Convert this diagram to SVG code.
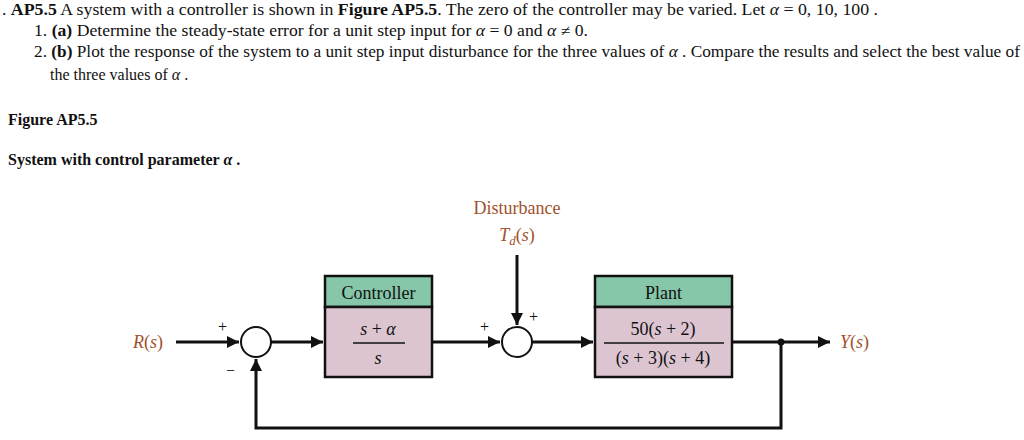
<svg xmlns="http://www.w3.org/2000/svg" width="1024" height="440" viewBox="0 0 1024 440">
<defs>
<style>
text{font-family:"Liberation Serif","DejaVu Serif",serif;fill:#111}
.t{font-size:16px}
.lab{font-size:18px;fill:#a0522d}
.hd{font-size:18px}
.m{font-size:18px}
.ln{stroke:#111;stroke-width:3;fill:none}
.hdr{fill:#85c7a8;stroke:#111;stroke-width:2.5}
.bdy{fill:#dcc5d1;stroke:#111;stroke-width:2.5}
.sum{fill:#fff;stroke:#111;stroke-width:2}
</style>
<marker id="a" viewBox="0 0 10 10" refX="10" refY="5" markerWidth="4" markerHeight="4" orient="auto" markerUnits="strokeWidth"><path d="M0,0L10,5L0,10z" fill="#111"/></marker>
</defs>
<rect width="1024" height="440" fill="#fff"/>
<g id="problem">
<text class="t" x="2" y="15" textLength="876" lengthAdjust="spacingAndGlyphs">. <tspan font-weight="bold">AP5.5</tspan> A system with a controller is shown in <tspan font-weight="bold">Figure AP5.5</tspan>. The zero of the controller may be varied. Let <tspan font-style="italic">α</tspan> = 0, 10, 100 .</text>
<text class="t" x="34" y="36" textLength="554" lengthAdjust="spacingAndGlyphs">1. <tspan font-weight="bold">(a)</tspan> Determine the steady-state error for a unit step input for <tspan font-style="italic">α</tspan> = 0 and <tspan font-style="italic">α</tspan> ≠ 0.</text>
<text class="t" x="34" y="57" textLength="986" lengthAdjust="spacingAndGlyphs">2. <tspan font-weight="bold">(b)</tspan> Plot the response of the system to a unit step input disturbance for the three values of <tspan font-style="italic">α</tspan> .  Compare the results and select the best value of</text>
<text class="t" x="50" y="80">the three values of <tspan font-style="italic">α</tspan> .</text>
<text class="t" x="8" y="125" font-weight="bold">Figure AP5.5</text>
<text class="t" x="8" y="165" font-weight="bold">System with control parameter <tspan font-style="italic">α</tspan> .</text>
</g>
<g id="connectors">
<path class="ln" d="M176,342H239" marker-end="url(#a)"/>
<path class="ln" d="M271,342H323" marker-end="url(#a)"/>
<path class="ln" d="M432,342H500" marker-end="url(#a)"/>
<path class="ln" d="M517,255V325" marker-end="url(#a)"/>
<path class="ln" d="M532,342H593" marker-end="url(#a)"/>
<path class="ln" d="M732,342H830" marker-end="url(#a)"/>
<path class="ln" d="M781,342V428H256V359" marker-end="url(#a)"/>
<circle cx="781" cy="342" r="3.5" fill="#111"/>
</g>
<g id="input"><text class="lab" x="133" y="348"><tspan font-style="italic">R</tspan>(<tspan font-style="italic">s</tspan>)</text></g>
<g id="sum1">
<circle class="sum" cx="256" cy="342" r="15"/>
<text class="t" x="218" y="332">+</text>
<text class="t" x="226" y="376">−</text>
</g>
<g id="controller">
<rect class="hdr" x="325" y="276" width="107" height="31"/>
<rect class="bdy" x="325" y="307" width="107" height="70"/>
<text class="hd" x="378.5" y="299" text-anchor="middle">Controller</text>
<text class="m" x="378" y="335" text-anchor="middle"><tspan font-style="italic">s</tspan> + <tspan font-style="italic">α</tspan></text>
<path d="M353,343H405" stroke="#111" stroke-width="1.5"/>
<text class="m" x="378" y="364" text-anchor="middle" font-style="italic">s</text>
</g>
<g id="disturbance">
<text class="lab" x="517" y="214" text-anchor="middle">Disturbance</text>
<text class="lab" x="517" y="241" text-anchor="middle"><tspan font-style="italic">T</tspan><tspan font-style="italic" font-size="13" dy="4">d</tspan><tspan dy="-4">(</tspan><tspan font-style="italic">s</tspan>)</text>
</g>
<g id="sum2">
<circle class="sum" cx="517" cy="342" r="15"/>
<text class="t" x="480" y="332">+</text>
<text class="t" x="529" y="322">+</text>
</g>
<g id="plant">
<rect class="hdr" x="595" y="276" width="137" height="31"/>
<rect class="bdy" x="595" y="307" width="137" height="70"/>
<text class="hd" x="663.5" y="299" text-anchor="middle">Plant</text>
<text class="m" x="663" y="335" text-anchor="middle">50(<tspan font-style="italic">s</tspan> + 2)</text>
<path d="M604,343H724" stroke="#111" stroke-width="1.5"/>
<text class="m" x="663" y="364" text-anchor="middle">(<tspan font-style="italic">s</tspan> + 3)(<tspan font-style="italic">s</tspan> + 4)</text>
</g>
<g id="output"><text class="lab" x="840" y="348"><tspan font-style="italic">Y</tspan>(<tspan font-style="italic">s</tspan>)</text></g>
</svg>
